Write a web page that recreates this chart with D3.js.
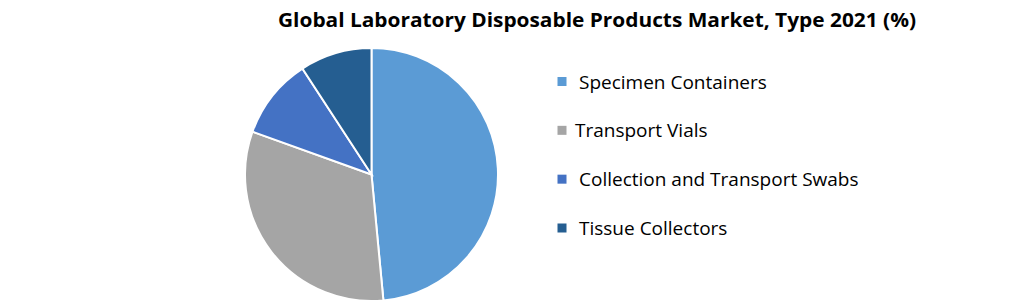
<!DOCTYPE html>
<html>
<head>
<meta charset="utf-8">
<script src="https://cdn.jsdelivr.net/npm/d3@7"></script>
<style>
  body { margin: 0; background: #fff; }
  text { font-family: "Open Sans", sans-serif; fill: #000; }
</style>
</head>
<body>
<svg></svg>
<script>
let types = ["Specimen Containers", "Transport Vials", "Collection and Transport Swabs", "Tissue Collectors"];
let shares = [48.5, 32.0, 10.3, 9.2];
let colors = ["#5b9bd5", "#a5a5a5", "#4472c4", "#255e91"];

let w = 1020;
let h = 303;
let cx = 371.5;
let cy = 174.5;
let r = 126.5;

let svg = d3.select('svg')
            .attr('width', w)
            .attr('height', h);

svg.append('text')
   .attr('x', 597)
   .attr('y', 27)
   .attr('text-anchor', 'middle')
   .attr('textLength', 638)
   .attr('lengthAdjust', 'spacingAndGlyphs')
   .style('font-weight', 'bold')
   .style('font-size', '20px')
   .text('Global Laboratory Disposable Products Market, Type 2021 (%)');

let pie = d3.pie().sort(null).value(d => d);
let arc = d3.arc().innerRadius(0).outerRadius(r);

svg.append('g')
   .attr('transform', 'translate(' + cx + ',' + cy + ')')
   .selectAll('path')
   .data(pie(shares))
   .enter()
   .append('path')
   .attr('d', arc)
   .attr('fill', (d, i) => colors[i])
   .attr('stroke', '#fff')
   .attr('stroke-width', 2);

// legend
let rowY = d3.scalePoint().domain(types).range([81.5, 228]);

let legend = svg.append('g')
                .selectAll('g')
                .data(types)
                .enter()
                .append('g')
                .attr('transform', d => 'translate(557.5,' + rowY(d) + ')');

legend.append('rect')
      .attr('x', 0)
      .attr('y', -4.5)
      .attr('width', 9)
      .attr('height', 9)
      .attr('fill', (d, i) => colors[i]);

legend.append('text')
      .attr('x', (d, i) => i == 1 ? 17.5 : 21.5)
      .attr('y', 7)
      .style('font-size', '19px')
      .text(d => d);
</script>
</body>
</html>
